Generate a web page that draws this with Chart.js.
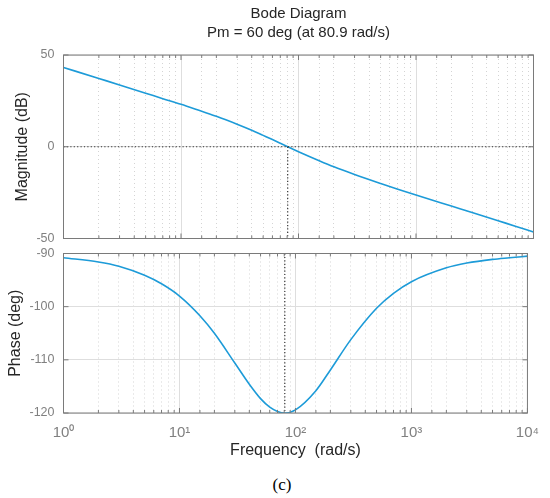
<!DOCTYPE html>
<html>
<head>
<meta charset="utf-8">
<script src="https://cdn.jsdelivr.net/npm/chart.js@4"></script>
<style>
  body { margin: 0; background: #fff; }
  #wrap { position: relative; width: 550px; height: 498px; }
  canvas { position: absolute; left: 0; }
  #caption { position: absolute; left: 232px; width: 100px; top: 475px; text-align: center;
             font: 17px 'Liberation Serif', 'DejaVu Serif', serif; color: #000; }
</style>
</head>
<body>
<div id="wrap">
  <canvas id="magChart" width="550" height="255" style="top:0"></canvas>
  <canvas id="phaseChart" width="550" height="233" style="top:237px"></canvas>
  <div id="caption">(c)</div>
</div>
<script>
// frequencies (rad/s)
const freq = [1, 2, 3, 5, 7, 10, 15, 20, 30, 40, 50, 60, 70, 80.9, 100, 150, 200, 300, 500, 700, 1000, 2000, 3000, 5000, 7000, 10000];
// magnitude (dB)
const magDb = [43.2, 37.2, 33.7, 29.2, 26.2, 23.1, 19.3, 16.6, 12.3, 9.0, 6.2, 3.9, 1.9, 0.0, -2.7, -7.6, -10.9, -15.1, -20.0, -23.1, -26.3, -32.3, -35.8, -40.3, -43.3, -46.4];
// phase (deg)
const phaseDeg = [-90.8, -91.6, -92.4, -94.1, -95.7, -98.0, -101.7, -105.0, -110.6, -114.6, -117.3, -118.9, -119.7, -120.0, -119.4, -115.8, -111.9, -106.2, -100.3, -97.5, -95.3, -92.7, -91.8, -91.1, -90.8, -90.5];

// phase margin marker
const wc = 80.9;

// tick labels
const xTickValues = [1, 10, 100, 1000, 10000];
const xTickLabels = ['10\u2070', '10\u00b9', '10\u00b2', '10\u00b3', '10\u2074'];
const magTicks = [-50, 0, 50];
const phaseTicks = [-120, -110, -100, -90];

const lineBlue = '#1d9bd8';
const tickGrey = '#808080';
const textDark = '#262626';
const sans = "'Liberation Sans', Arial, sans-serif";

function pts(ys) {
  return freq.map((f, i) => ({ x: f, y: ys[i] }));
}

// box around the plot with small ticks pointing inward, like MATLAB
const framePlugin = {
  id: 'frame',
  afterDraw(chart) {
    const { ctx, chartArea: a, scales } = chart;
    ctx.save();
    ctx.strokeStyle = '#7a7a7a';
    ctx.lineWidth = 1;
    ctx.strokeRect(a.left, a.top, a.right - a.left, a.bottom - a.top);
    ctx.beginPath();
    scales.x.ticks.forEach(t => {
      const px = scales.x.getPixelForValue(t.value);
      const len = xTickValues.includes(t.value) ? 5 : 3;
      ctx.moveTo(px, a.bottom); ctx.lineTo(px, a.bottom - len);
      ctx.moveTo(px, a.top); ctx.lineTo(px, a.top + len);
    });
    scales.y.ticks.forEach(t => {
      const py = scales.y.getPixelForValue(t.value);
      ctx.moveTo(a.left, py); ctx.lineTo(a.left + 5, py);
      ctx.moveTo(a.right, py); ctx.lineTo(a.right - 5, py);
    });
    ctx.stroke();
    ctx.restore();
  }
};

function xAxis(showLabels, fitHeight) {
  return {
    type: 'logarithmic',
    min: 1,
    max: 10000,
    afterFit: s => { s.height = fitHeight; },
    grid: {
      drawTicks: false,
      color: c => (c.tick && xTickValues.includes(c.tick.value)) ? '#dedede' : '#d4d4d4'
    },
    border: {
      display: false,
      dash: c => (c.tick && !xTickValues.includes(c.tick.value)) ? [1, 3] : []
    },
    ticks: {
      display: showLabels,
      autoSkip: false,
      maxRotation: 0,
      minRotation: 0,
      padding: 11,
      color: tickGrey,
      font: { family: sans, size: 15 },
      callback: v => {
        const i = xTickValues.indexOf(v);
        return i >= 0 ? xTickLabels[i] : '';
      }
    },
    title: showLabels ? {
      display: true,
      text: 'Frequency  (rad/s)',
      color: textDark,
      font: { family: sans, size: 16 },
      padding: { top: 0, bottom: 10 }
    } : { display: false }
  };
}

function yAxis(min, max, values, titleText, titlePad) {
  return {
    min: min,
    max: max,
    afterFit: s => { s.width = 63.5; },
    afterBuildTicks: s => { s.ticks = values.map(v => ({ value: v })); },
    grid: { drawTicks: false, color: '#dedede' },
    border: { display: false },
    ticks: {
      padding: 9,
      color: tickGrey,
      font: { family: sans, size: 12.5 }
    },
    title: {
      display: true,
      text: titleText,
      color: textDark,
      font: { family: sans, size: 16 },
      padding: { top: titlePad, bottom: 0 }
    }
  };
}

const dotted = {
  borderColor: '#333',
  borderWidth: 1.2,
  borderDash: [1.2, 2.2],
  pointRadius: 0,
  fill: false
};

new Chart(document.getElementById('magChart'), {
  type: 'line',
  data: {
    datasets: [
      { data: [{ x: 1, y: 0 }, { x: 10000, y: 0 }], ...dotted },
      { data: [{ x: wc, y: 0 }, { x: wc, y: -50 }], ...dotted },
      {
        data: pts(magDb),
        borderColor: lineBlue,
        borderWidth: 1.6,
        pointRadius: 0,
        cubicInterpolationMode: 'monotone',
        fill: false
      }
    ]
  },
  options: {
    responsive: false,
    animation: false,
    layout: { padding: { left: 0, right: 16.5, top: 0, bottom: 0 } },
    plugins: {
      legend: { display: false },
      tooltip: { enabled: false },
      title: {
        display: true,
        fullSize: false,
        text: ['Bode Diagram', 'Pm = 60 deg (at 80.9 rad/s)'],
        color: textDark,
        font: { family: sans, size: 15, weight: 'normal', lineHeight: 1.3 },
        padding: { top: 4, bottom: 12 }
      }
    },
    scales: {
      x: xAxis(false, 0),
      y: yAxis(-50, 50, magTicks, 'Magnitude (dB)', 13)
    }
  },
  plugins: [framePlugin]
});

new Chart(document.getElementById('phaseChart'), {
  type: 'line',
  data: {
    datasets: [
      { data: [{ x: wc, y: -90 }, { x: wc, y: -120 }], ...dotted },
      {
        data: pts(phaseDeg),
        borderColor: lineBlue,
        borderWidth: 1.6,
        pointRadius: 0,
        cubicInterpolationMode: 'monotone',
        fill: false
      }
    ]
  },
  options: {
    responsive: false,
    animation: false,
    layout: { padding: { left: 0, right: 16.5, top: 0, bottom: 0 } },
    plugins: {
      legend: { display: false },
      tooltip: { enabled: false }
    },
    scales: {
      x: xAxis(true, 57),
      y: yAxis(-120, -90, phaseTicks, 'Phase (deg)', 6)
    }
  },
  plugins: [framePlugin]
});
</script>
</body>
</html>
